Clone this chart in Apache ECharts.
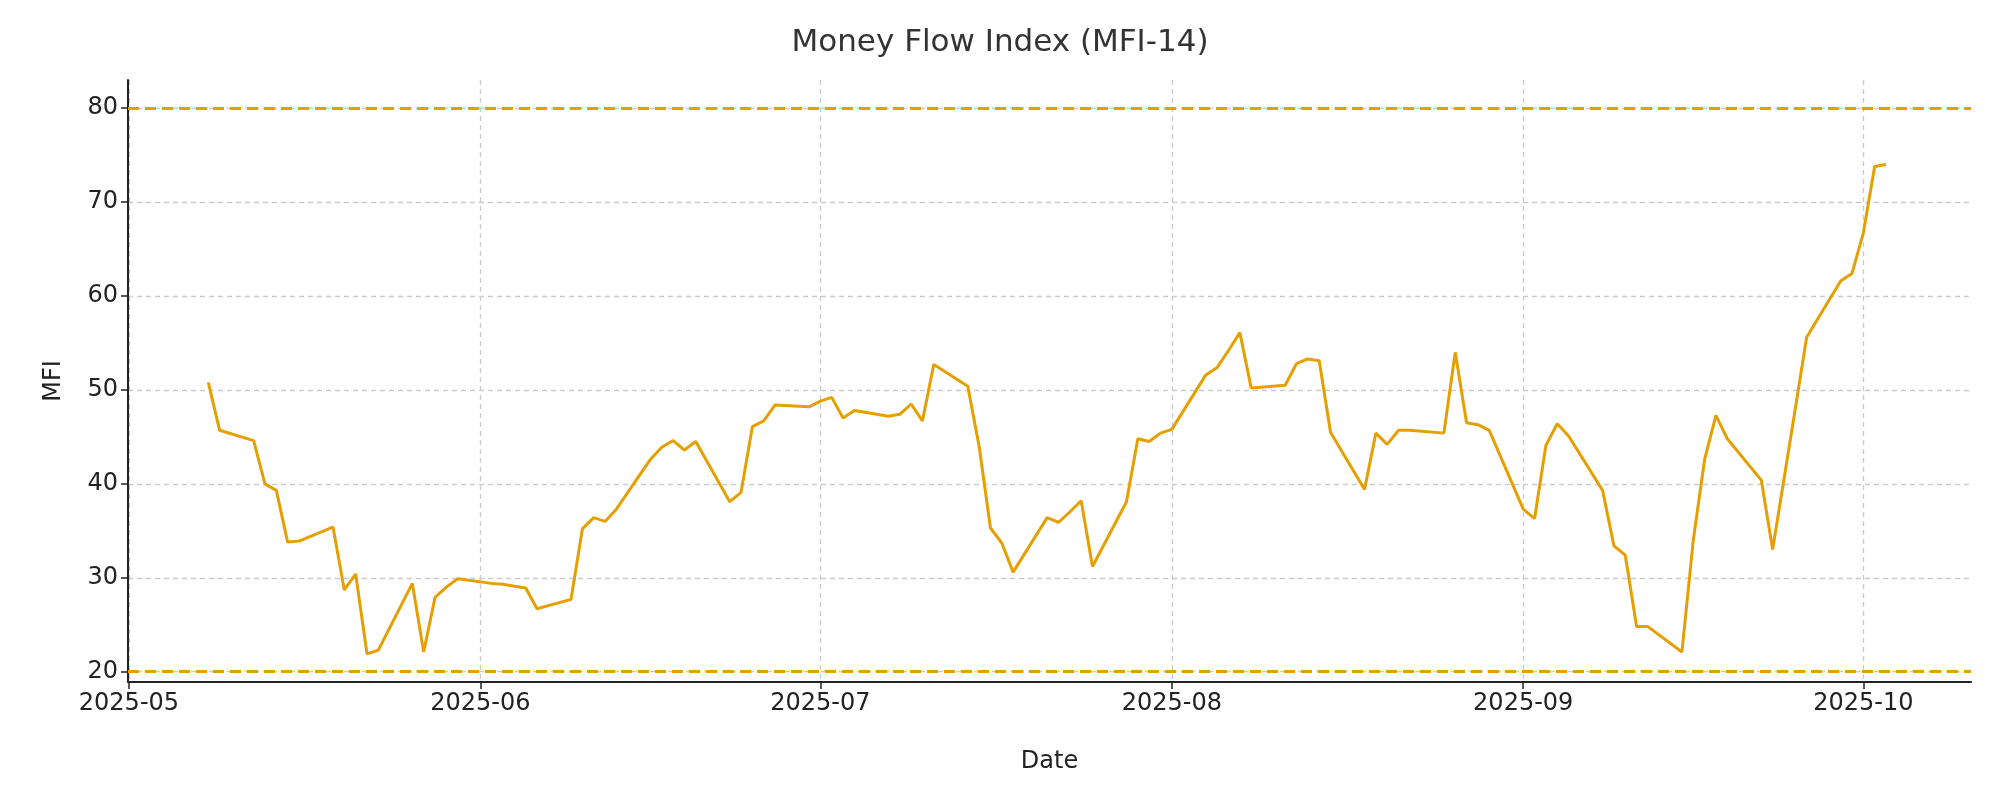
<!DOCTYPE html>
<html><head><meta charset="utf-8">
<script src="https://cdn.jsdelivr.net/npm/echarts@6/dist/echarts.min.js"></script>
<style>html,body{margin:0;padding:0;background:#fff}#c{width:2000px;height:800px}</style>
</head><body><div id="c"></div>
<script>
const dates = ["2025-05-08","2025-05-09","2025-05-12","2025-05-13","2025-05-14","2025-05-15","2025-05-16","2025-05-19","2025-05-20","2025-05-21","2025-05-22","2025-05-23","2025-05-26","2025-05-27","2025-05-28","2025-05-29","2025-05-30",
"2025-06-02","2025-06-03","2025-06-04","2025-06-05","2025-06-06","2025-06-09","2025-06-10","2025-06-11","2025-06-12","2025-06-13","2025-06-16","2025-06-17","2025-06-18","2025-06-19","2025-06-20","2025-06-23","2025-06-24","2025-06-25","2025-06-26","2025-06-27","2025-06-30",
"2025-07-01","2025-07-02","2025-07-03","2025-07-04","2025-07-07","2025-07-08","2025-07-09","2025-07-10","2025-07-11","2025-07-14","2025-07-15","2025-07-16","2025-07-17","2025-07-18","2025-07-21","2025-07-22","2025-07-23","2025-07-24","2025-07-25","2025-07-28","2025-07-29","2025-07-30","2025-07-31",
"2025-08-01","2025-08-04","2025-08-05","2025-08-06","2025-08-07","2025-08-08","2025-08-11","2025-08-12","2025-08-13","2025-08-14","2025-08-15","2025-08-18","2025-08-19","2025-08-20","2025-08-21","2025-08-22","2025-08-25","2025-08-26","2025-08-27","2025-08-28","2025-08-29",
"2025-09-01","2025-09-02","2025-09-03","2025-09-04","2025-09-05","2025-09-08","2025-09-09","2025-09-10","2025-09-11","2025-09-12","2025-09-15","2025-09-16","2025-09-17","2025-09-18","2025-09-19","2025-09-22","2025-09-23","2025-09-24","2025-09-25","2025-09-26","2025-09-29","2025-09-30",
"2025-10-01","2025-10-02","2025-10-03"];
const mfi = [50.8,45.7,44.6,40.0,39.3,33.8,33.9,35.4,28.7,30.4,21.9,22.3,29.4,22.1,27.9,29.0,29.9,
29.4,29.3,29.1,28.9,26.7,27.7,35.2,36.4,36.0,37.3,42.6,43.9,44.6,43.6,44.5,38.1,39.1,46.1,46.7,48.4,48.2,
48.8,49.2,47.0,47.8,47.2,47.4,48.5,46.7,52.7,50.4,44.0,35.3,33.7,30.6,36.4,35.9,37.0,38.2,31.2,38.1,44.8,44.5,45.4,
45.8,51.6,52.4,54.2,56.1,50.2,50.5,52.8,53.3,53.1,45.5,39.4,45.4,44.2,45.7,45.7,45.4,54.0,46.5,46.3,45.7,
37.3,36.3,44.1,46.4,45.1,39.3,33.4,32.4,24.8,24.8,22.1,34.0,42.6,47.3,44.8,40.4,33.0,40.5,48.0,55.6,61.6,62.4,
66.7,73.8,74.0];
const monthTicks = ["2025-05-01","2025-06-01","2025-07-01","2025-08-01","2025-09-01","2025-10-01"];
const yTicks = [20,30,40,50,60,70,80];
const overbought = 80, oversold = 20;
const FONT = "DejaVu Sans";
const ms = d => new Date(d + "T00:00:00Z").getTime();
const chart = echarts.init(document.getElementById('c'));
const gridLine = {show:true, lineStyle:{color:'#cccccc', type:[5,4], width:1.3}};
chart.setOption({
  animation:false,
  textStyle:{fontFamily:FONT},
  title:{text:'Money Flow Index (MFI-14)', left:'center', top:22,
    textStyle:{fontFamily:FONT, fontSize:31, fontWeight:'normal', color:'#333'}},
  grid:{left:128, right:29, top:80, bottom:118},
  xAxis:{type:'value', min:ms("2025-04-30")+22*3600e3, max:ms("2025-10-10")+12*3600e3,
    name:'Date', nameLocation:'middle', nameGap:68, nameTextStyle:{fontSize:24, color:'#222'},
    axisLine:{lineStyle:{color:'#222', width:2}},
    axisTick:{show:true, length:7, lineStyle:{color:'#222', width:1.5}, customValues:monthTicks.map(ms)},
    axisLabel:{fontSize:24, color:'#222', margin:10, customValues:monthTicks.map(ms), showMinLabel:true, showMaxLabel:true,
      formatter:v=>{const d=new Date(v);return d.getUTCFullYear()+'-'+String(d.getUTCMonth()+1).padStart(2,'0');}},
    splitLine:gridLine},
  yAxis:{type:'value', min:18.9, max:83,
    name:'MFI', nameLocation:'middle', nameGap:62, nameTextStyle:{fontSize:24, color:'#222'},
    axisLine:{show:true, lineStyle:{color:'#222', width:2}},
    axisTick:{show:true, length:7, lineStyle:{color:'#222', width:1.5}, customValues:yTicks},
    axisLabel:{fontSize:24, color:'#222', margin:10, customValues:yTicks},
    splitLine:gridLine},
  series:[{type:'line', data:dates.map((d,i)=>[ms(d), mfi[i]]), showSymbol:false,
    lineStyle:{color:'#E69F00', width:3}, itemStyle:{color:'#E69F00'},
    markLine:{silent:true, symbol:'none', label:{show:false},
      lineStyle:{color:'#E69F00', type:[11,6], width:3.2},
      data:[{yAxis:overbought},{yAxis:oversold}]}}]
});
</script></body></html>
